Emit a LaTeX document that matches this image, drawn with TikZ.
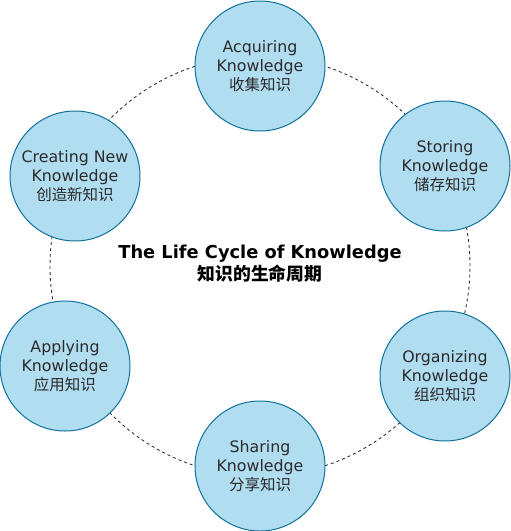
\documentclass[tikz,border=0pt]{standalone}
\usepackage{fontspec}
\setmainfont{DejaVu Sans}
\newfontfamily\cjk{Noto Sans CJK SC}
\newfontfamily\cjkb{Noto Sans CJK SC Bold}
\definecolor{nodefill}{HTML}{B1DDF0}
\definecolor{nodeline}{HTML}{10739E}
\definecolor{txt}{HTML}{2A2A2A}
\begin{document}
\begin{tikzpicture}[x=1pt,y=-1pt,
  stage/.style={circle,draw=nodeline,fill=nodefill,line width=1pt,minimum size=130pt,inner sep=0pt,align=center,text=txt,font=\fontsize{15.8}{19}\selectfont},
  cycleline/.style={draw=black!80,line width=0.9pt,dash pattern=on 3pt off 3pt}]
\useasboundingbox (0,0) rectangle (511,531);
\coordinate (ctr) at (260,266);
\draw[cycleline] (ctr) circle[radius=210pt];
\node[stage] (acq) at (260,66) {Acquiring\\Knowledge\\{\cjk\fontsize{15.5}{19}\selectfont 收集知识}};
\node[stage] (sto) at (445,166) {Storing\\Knowledge\\{\cjk\fontsize{15.5}{19}\selectfont 储存知识}};
\node[stage] (org) at (445,376) {Organizing\\Knowledge\\{\cjk\fontsize{15.5}{19}\selectfont 组织知识}};
\node[stage] (sha) at (260,466) {Sharing\\Knowledge\\{\cjk\fontsize{15.5}{19}\selectfont 分享知识}};
\node[stage] (app) at (65,366) {Applying\\Knowledge\\{\cjk\fontsize{15.5}{19}\selectfont 应用知识}};
\node[stage] (cre) at (75,176) {Creating New\\Knowledge\\{\cjk\fontsize{15.5}{19}\selectfont 创造新知识}};
\node[align=center,font=\fontsize{17.8}{22}\selectfont\bfseries] (title) at (260,264) {The Life Cycle of Knowledge\\{\cjkb\fontsize{17.8}{22}\selectfont 知识的生命周期}};
\end{tikzpicture}
\end{document}
